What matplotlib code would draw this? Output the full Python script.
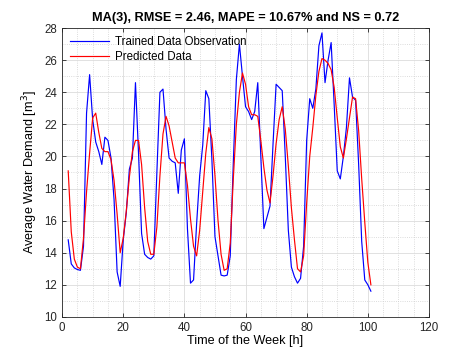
import numpy as np
import matplotlib
matplotlib.use('Agg')
import matplotlib.pyplot as plt
from matplotlib.ticker import MultipleLocator

plt.rcParams['font.family'] = ['Liberation Sans', 'DejaVu Sans']

# 时间 (h)
hours = list(range(2, 102))

# 观测值
observed = [14.8, 13.3, 13.05, 12.95, 12.9, 14.4, 22.7, 25.1, 22.3, 20.9,
            20.3, 19.5, 21.2, 21.0, 19.9, 17.3, 12.8, 11.9, 14.8, 16.5,
            19.2, 19.9, 24.6, 20.2, 15.2, 13.9, 13.7, 13.6, 13.8, 19.0,
            24.0, 24.2, 21.7, 19.9, 19.7, 19.6, 17.7, 20.4, 21.1, 15.5,
            12.1, 12.3, 15.8, 18.8, 20.7, 24.1, 23.6, 19.8, 15.0, 13.8,
            12.6, 12.55, 12.6, 13.8, 19.6, 24.8, 27.0, 25.0, 23.1, 22.8,
            22.3, 22.8, 24.6, 20.0, 15.5, 16.2, 16.9, 20.8, 24.5, 24.3,
            24.1, 20.0, 15.4, 13.1, 12.5, 12.1, 12.4, 14.4, 21.0, 23.6,
            23.0, 24.2, 26.9, 27.7, 24.6, 26.0, 27.1, 23.2, 19.1, 18.6,
            20.0, 21.8, 24.9, 23.7, 23.5, 19.5, 14.7, 12.3, 12.0, 11.6]

# 预测值
predicted = [19.1, 15.3, 13.6, 13.1, 13.0, 14.9, 17.8, 20.2, 22.4, 22.7,
             21.5, 20.5, 20.3, 20.3, 19.8, 18.5, 16.4, 14.0, 14.9, 16.6,
             18.7, 20.3, 21.0, 21.0, 19.5, 16.8, 14.7, 13.9, 13.9, 15.6,
             18.8, 21.4, 22.5, 21.9, 20.9, 19.9, 19.6, 19.6, 19.6, 18.2,
             16.1, 14.4, 13.8, 15.4, 17.8, 20.2, 21.8, 21.1, 18.8, 16.0,
             13.9, 12.9, 13.0, 14.6, 18.6, 22.0, 24.0, 25.2, 24.5, 23.1,
             22.6, 22.6, 22.5, 21.0, 19.3, 17.9, 17.1, 18.8, 20.8, 22.3,
             23.1, 21.7, 19.4, 16.8, 14.8, 13.0, 12.8, 13.8, 17.1, 20.0,
             21.8, 23.8, 25.3, 26.1, 26.0, 25.8, 25.4, 24.3, 22.4, 20.6,
             19.9, 21.1, 22.4, 23.7, 23.6, 21.6, 18.6, 15.9, 13.4, 12.0]

fig = plt.figure(figsize=(4.74, 3.56), dpi=100)
ax = fig.add_axes([0.131, 0.110, 0.774, 0.811])

ax.plot(hours, observed, color='#0000ff', linewidth=0.85, label='Trained Data Observation')
ax.plot(hours, predicted, color='#ff0000', linewidth=0.85, label='Predicted Data')

ax.set_xlim(0, 120)
ax.set_ylim(10, 28)
ax.xaxis.set_major_locator(MultipleLocator(20))
ax.xaxis.set_minor_locator(MultipleLocator(5))
ax.yaxis.set_major_locator(MultipleLocator(2))
ax.yaxis.set_minor_locator(MultipleLocator(1))

# 网格
ax.grid(True, which='major', color='#dcdcdc', linewidth=0.6)
ax.grid(True, which='minor', color='#d0d0d0', linewidth=0.6, linestyle=':')
ax.set_axisbelow(True)

ax.tick_params(which='both', direction='in', top=True, right=True,
               labelsize=8.3, colors='#262626', width=0.6)
ax.tick_params(which='major', length=3)
ax.tick_params(which='minor', length=0)
for s in ax.spines.values():
    s.set_color('#262626')
    s.set_linewidth(0.6)

ax.set_title('MA(3), RMSE = 2.46, MAPE = 10.67% and NS = 0.72',
             fontsize=9.2, fontweight='bold', pad=5)
ax.set_xlabel('Time of the Week [h]', fontsize=9.1, labelpad=1)
ax.set_ylabel('Average Water Demand [m$^3$]', fontsize=9.1, labelpad=3)

ax.legend(loc='upper left', frameon=False, fontsize=8.3, handlelength=3.4,
          borderaxespad=0.3, labelspacing=0.25, handletextpad=0.5)

plt.savefig('out.png', dpi=100)
